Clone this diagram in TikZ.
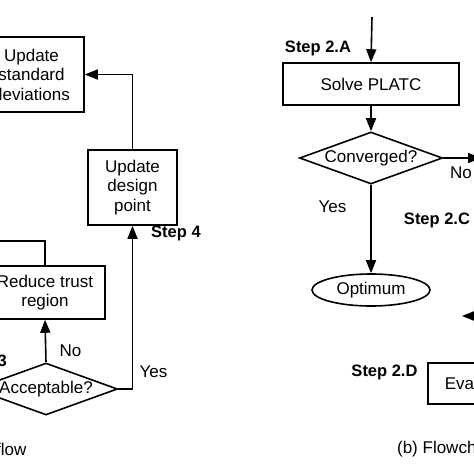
\documentclass[tikz,border=0pt]{standalone}
\usepackage{fontspec}
\setmainfont{Liberation Sans}
\usetikzlibrary{shapes.geometric,arrows.meta}
\begin{document}
\begin{tikzpicture}[x=1pt,y=-1pt,>={Triangle[length=13pt,width=10pt]},line width=1.6pt,
  font=\fontsize{17}{19.5}\selectfont,
  process/.style={draw,align=center,inner sep=0pt},
  test/.style={draw,diamond,inner sep=0pt,aspect=2.75,minimum width=143pt,minimum height=52pt},
  steplabel/.style={font=\fontsize{16.5}{19.5}\selectfont\bfseries}]
\useasboundingbox (0,0) rectangle (474,474);

% left part
\node[process,minimum width=105pt,minimum height=75pt] (usd) at (31.5,74.5) {Update\\standard\\deviations};
\node[process,minimum width=89pt,minimum height=75pt] (udp) at (132.5,187.5) {Update\\design\\point};
\node[process,minimum width=120pt,minimum height=53pt] (rtr) at (45,292.5) {Reduce trust\\region};
\node[test] (acc) at (46,389) {Acceptable?};
\coordinate (back) at (-10,241);

\draw[->] (udp.north) |- (usd.east);
\draw[->] (acc.east) -| (udp.south);
\draw[->] (acc.north) -- (rtr.south);
\draw (rtr.north) |- (back);

\node[steplabel] (s4) at (176,233) {Step 4};
\node[steplabel,anchor=east] (s3) at (11,362) {Step 3};
\node (no1) at (70.5,351) {No};
\node (yes1) at (153.5,372) {Yes};
\node[anchor=east] (capa) at (30.5,449) {flow};

% right part
\coordinate (in) at (372,17);
\node[process,minimum width=176pt,minimum height=42pt] (solve) at (371,84) {Solve PLATC};
\node[test] (conv) at (371,158) {Converged?};
\node[draw,ellipse,inner sep=0pt,minimum width=118pt,minimum height=32pt] (opt) at (371,290) {Optimum};
\node[process,anchor=west,minimum height=41pt,text width=110pt,align=left,inner xsep=17pt] (eva) at (427,383.5) {Evaluate};
\coordinate (out) at (481,158);
\coordinate (ret) at (500,316);
\coordinate (rett) at (462,316);

\draw[->] (in) -- (solve.north);
\draw[->] (solve.south) -- (conv.north);
\draw[->] (conv.east) -- (out);
\draw[->] (conv.south) -- (opt.north);
\draw[->] (ret) -- (rett);

\node[steplabel] (s2a) at (318,48) {Step 2.A};
\node[steplabel] (s2c) at (437,220) {Step 2.C};
\node[steplabel] (s2d) at (384.5,372) {Step 2.D};
\node (no2) at (461,173) {No};
\node (yes2) at (332.5,207) {Yes};
\node[anchor=west] (capb) at (393,449) {(b) Flowchart};
\end{tikzpicture}
\end{document}
